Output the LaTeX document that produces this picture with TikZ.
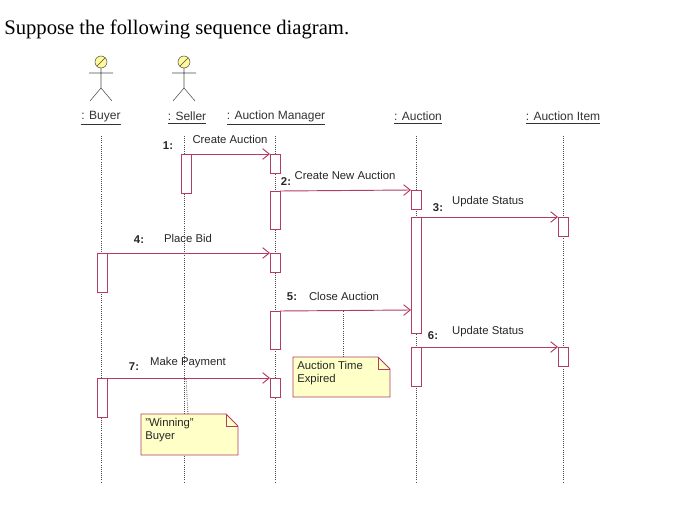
\documentclass[tikz,border=0pt]{standalone}
\usepackage{fontspec}
\setmainfont{Liberation Serif}
\setsansfont{Liberation Sans}
\usetikzlibrary{arrows.meta}
\definecolor{msg}{RGB}{178,60,100}
\definecolor{notefill}{RGB}{255,255,200}
\tikzset{
  px/.style={x=0.75pt,y=-0.75pt},
  life/.style={densely dotted,black!70,line width=0.6pt},
  bar/.style={draw=msg,fill=white,line width=0.6pt},
  msgarrow/.style={msg,line width=0.7pt,-{Straight Barb[length=5pt,width=8pt]}},
  lbl/.style={font=\sffamily\fontsize{8.5}{10}\selectfont,inner sep=0pt,text=black!85},
  hdr/.style={font=\sffamily\fontsize{9}{10}\selectfont,inner sep=1pt,text=black!80},
  notebox/.style={draw=msg,fill=notefill,line width=0.6pt},
}
\begin{document}
\begin{tikzpicture}[px]
\useasboundingbox (0,0) rectangle (700,531);
\node[anchor=west,inner sep=0pt,font=\fontsize{15.5}{18}\selectfont] (title) at (4,29) {Suppose the following sequence diagram.};
% actors
\foreach \x in {101,184}{
  \draw[fill=yellow!40,draw=black!70] (\x,62) circle (6);
  \draw[black!70] (\x-4,66) -- (\x+4,58);
  \draw[black!70] (\x,68) -- (\x,88) (\x-12,73) -- (\x+12,73) (\x,88) -- (\x-11,101) (\x,88) -- (\x+11,101);
}
% headers
\node[hdr] (hb) at (101,118) {\underline{: Buyer}};
\node[hdr] (hs) at (187,118) {\underline{: Seller}};
\node[hdr] (hm) at (276,118) {\underline{: Auction Manager}};
\node[hdr] (ha) at (418,118) {\underline{: Auction}};
\node[hdr] (hi) at (563,118) {\underline{: Auction Item}};
% lifelines
\coordinate (eb) at (101,482); \coordinate (es) at (184,482);
\coordinate (em) at (275,482); \coordinate (ea) at (416,482); \coordinate (ei) at (563,482);
\coordinate (sb) at (101,136); \coordinate (ss) at (184,136);
\coordinate (sm) at (275,136); \coordinate (sa) at (416,136); \coordinate (si) at (563,136);
\draw[life] (sb) -- (eb); \draw[life] (ss) -- (es); \draw[life] (sm) -- (em);
\draw[life] (sa) -- (ea); \draw[life] (si) -- (ei);
% bars
\def\bar#1#2#3#4{\draw[bar] (#2-5,#3) rectangle (#2+5,#4); \coordinate (#1) at (#2,#3);}
\bar{s1}{186}{154}{193}
\bar{m1}{275}{154}{173}
\bar{m2}{275}{191}{229}
\bar{a1}{416}{190}{209}
\bar{a2}{416}{217}{333}
\bar{i1}{563}{217}{236}
\bar{b1}{102}{253}{292}
\bar{m3}{275}{253}{272}
\bar{m4}{275}{311}{349}
\bar{a3}{416}{347}{386}
\bar{i2}{563}{347}{366}
\bar{b2}{102}{378}{417}
\bar{m5}{275}{378}{397}
\coordinate (a2m) at (416,310);
% messages
\draw[msgarrow] ([xshift=3.75pt]s1) -- ([xshift=-3.75pt]m1);
\draw[msgarrow] ([xshift=3.75pt]m2) -- ([xshift=-3.75pt]a1);
\draw[msgarrow] ([xshift=3.75pt]a2) -- ([xshift=-3.75pt]i1);
\draw[msgarrow] ([xshift=3.75pt]b1) -- ([xshift=-3.75pt]m3);
\draw[msgarrow] ([xshift=3.75pt]m4) -- ([xshift=-3.75pt]a2m);
\draw[msgarrow] ([xshift=3.75pt]a3) -- ([xshift=-3.75pt]i2);
\draw[msgarrow] ([xshift=3.75pt]b2) -- ([xshift=-3.75pt]m5);
% labels
\node[lbl] (l1n) at (168,146) {\bfseries 1:};
\node[lbl] (l1) at (230,139) {Create Auction};
\node[lbl] (l2n) at (286,182) {\bfseries 2:};
\node[lbl] (l2) at (345,175) {Create New Auction};
\node[lbl] (l3n) at (438,208) {\bfseries 3:};
\node[lbl] (l3) at (488,202) {Update Status};
\node[lbl] (l4n) at (139,240) {\bfseries 4:};
\node[lbl] (l4) at (188,238) {Place Bid};
\node[lbl] (l5n) at (292,297) {\bfseries 5:};
\node[lbl] (l5) at (344,296) {Close Auction};
\node[lbl] (l6n) at (433,336) {\bfseries 6:};
\node[lbl] (l6) at (488,332) {Update Status};
\node[lbl] (l7n) at (134,367) {\bfseries 7:};
\node[lbl] (l7) at (188,363) {Make Payment};
% notes
\draw[notebox] (293,357) -- (378,357) -- (390,369) -- (390,397) -- (293,397) -- cycle;
\draw[msg,line width=0.6pt] (378,357) -- (378,369) -- (390,369);
\node[lbl,anchor=north west,align=left] (n1) at (297,361) {Auction Time\\Expired};
\draw[life] (343,357) -- (343,311);
\draw[notebox] (141,414) -- (226,414) -- (238,426) -- (238,455) -- (141,455) -- cycle;
\draw[msg,line width=0.6pt] (226,414) -- (226,426) -- (238,426);
\node[lbl,anchor=north west,align=left] (n2) at (145,418) {"Winning"\\Buyer};
\draw[life] (188,414) -- (186,379);
\end{tikzpicture}
\end{document}
